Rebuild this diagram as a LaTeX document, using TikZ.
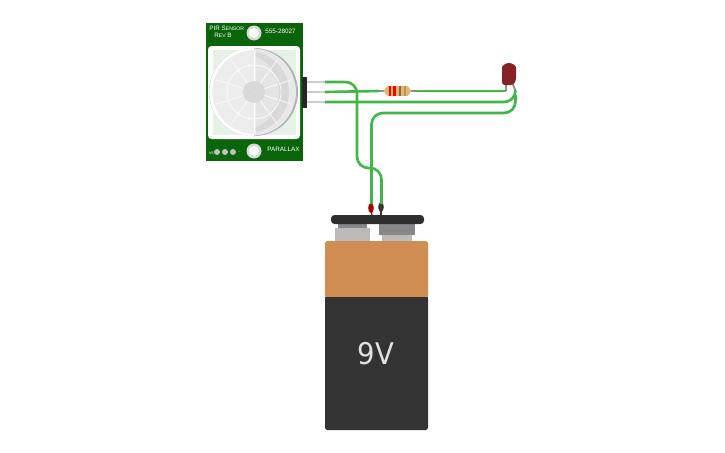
\documentclass[tikz,border=0pt]{standalone}
\usepackage{xcolor}
\usepackage{fontspec}
\setmainfont{Liberation Sans}
\newfontfamily\batteryfont{DejaVu Sans}
\definecolor{boardgreen}{HTML}{0A640A}
\definecolor{panelgreen}{HTML}{E6F2E6}
\definecolor{wiregreen}{HTML}{43B649}
\definecolor{clayorange}{HTML}{D08E52}
\definecolor{cellblack}{HTML}{333333}
\definecolor{ledred}{HTML}{862224}
\definecolor{bodytan}{HTML}{DDB877}
\newcommand{\tinycaps}[1]{{\fontsize{2.9pt}{4pt}\selectfont #1}}
\tikzset{
	wire/.style={wiregreen,line width=1.5pt,rounded corners=6.5pt},
	pin/.style={draw=black!20,line width=1.7pt},
	leadline/.style={draw=black!45,line width=.8pt},
	label/.style={text=white,inner sep=0pt,font=\fontsize{3.6pt}{4pt}\selectfont}
}
\begin{document}
\begin{tikzpicture}[x=.02cm,y=-.02cm,declare function={cx=254;cy=92;r=44;}]
		\useasboundingbox (0,0) rectangle (725,453);
		% battery
		\fill[cellblack,rounded corners=1pt] (325,297) rectangle (428,430);
		\fill[clayorange,rounded corners=1pt] (325,241) rectangle (428,298);
		\fill[cellblack] (325,297) rectangle (428,300);
		\fill[black!47] (338,223) rectangle (367,229);
		\fill[black!27] (335,228) rectangle (370,241);
		\fill[black!47] (379,223) rectangle (415,235);
		\fill[black!27] (382,235) rectangle (412,241);
		\fill[black!82,rounded corners=2pt] (331,215) rectangle (424,224);
		\node[inner sep=0pt,text=black!12,font=\batteryfont\fontsize{17pt}{17pt}\selectfont,xscale=.92] (nine) at (376,354) {9V};
		% board
		\fill[boardgreen] (206,23) rectangle (303,161);
		\fill[white,rounded corners=2pt] (208,46) rectangle (300,139);
		\fill[panelgreen] (213,50) rectangle (296,135);
		\fill[black!30] (cx,cy) circle (r);
		\begin{scope}
			\clip (cx-1.5,cy) circle (r-.5);
			\fill[black!9] (cx-r,cy-r) rectangle (cx+r,cy+r);
			\fill[black!15] (cx-6,cy) circle (r-3);
			\fill[black!10] (cx-14,cy) circle (r-5);
			\fill[black!7] (cx-r,cy-r) rectangle (cx+2,cy+r);
		\end{scope}
		\draw[white,line width=1.4pt] (cx,cy-43) arc (-90:-270:43);
		\foreach \i in {1,...,10}{
			\draw[white,line width=.3pt] (cx,cy)+(\i*36-18:11) -- +(\i*36-18:40);
		}
		\draw[white,line width=.3pt] (cx,cy) circle (27);
		\fill[black!15] (cx,cy) circle (11);
		\fill[white] (cx,cy) circle (.5);
		\foreach \y in {33,151}{
			\fill[black!15] (254,\y) circle (7.5);
			\fill[white] (254,\y) circle (5);
		}
		\foreach \x in {217,225,233}{
			\fill[black!25] (\x,152) circle (3);
		}
		\node[label,anchor=west] (pirname) at (209,28) {PIR S\tinycaps{ENSOR}};
		\node[label,anchor=west] (pirrev) at (214,35.5) {R\tinycaps{EV} B};
		\node[label,anchor=west] (pirpart) at (265,31.5) {555-28027};
		\node[label,anchor=west] (pirmaker) at (267,149.5) {PARALLAX};
		\node[label,anchor=east] (pirleft) at (214,153) {\fontsize{2.6pt}{3pt}\selectfont vs};
		\node[label,anchor=west] (pirright) at (238,153) {\fontsize{2.6pt}{3pt}\selectfont -};
		\foreach \n/\y in {a/82,b/92,c/102}{
			\coordinate (pin\n) at (325,\y);
			\draw[pin] (305,\y) -- (pin\n);
		}
		\fill[black!85] (302,77) rectangle (307,108);
		% resistor
		\coordinate (resl) at (379,91);
		\coordinate (resr) at (418,91);
		\draw[leadline] (resl) -- (resr);
		\fill[bodytan] (383,91) to[out=-80,in=180] (388,86) -- (407,86) to[out=0,in=-100] (412,91) to[out=100,in=0] (407,96) -- (388,96) to[out=180,in=80] cycle;
		\foreach \x/\c in {390/red,394.5/red,400/brown!80!black,405/brown!70!bodytan}{
			\fill[\c] (\x-1.2,86) rectangle (\x+1.2,96);
		}
		% led
		\coordinate (ledl) at (506,91);
		\coordinate (ledr) at (515.5,91);
		\draw[leadline,line width=1pt] (506,82) -- (ledl);
		\draw[leadline,line width=1pt] (512,82) -- (ledr);
		\fill[ledred,rounded corners=1.5pt] (502,85) -- (502,70) arc (-180:0:7) -- (516,81) -- (513,85) -- cycle;
		% clips
		\coordinate (clipr) at (371.5,204);
		\coordinate (clipb) at (381.5,204);
		\draw[red!60!black,line width=.7pt] (371,208) -- (372,215);
		\fill[red!65!black] (371,208) ellipse (2.8 and 5);
		\draw[black!80,line width=.7pt] (381,208) -- (381,215);
		\fill[black!80] (381,207) ellipse (2.8 and 5);
		% wires
		\draw[wire] (pina) -- (357,82) -- (357,168) -- (381.5,168) -- (clipb);
		\draw[wire] (pinb) -- (resl);
		\draw[wire] (resr) -- (ledl);
		\draw[wire] (pinc) -- (515.5,102) -- (ledr);
		\draw[wire] (clipr) -- (371.5,113) -- (515.5,113) -- (515.5,95);
	\end{tikzpicture}
\end{document}
